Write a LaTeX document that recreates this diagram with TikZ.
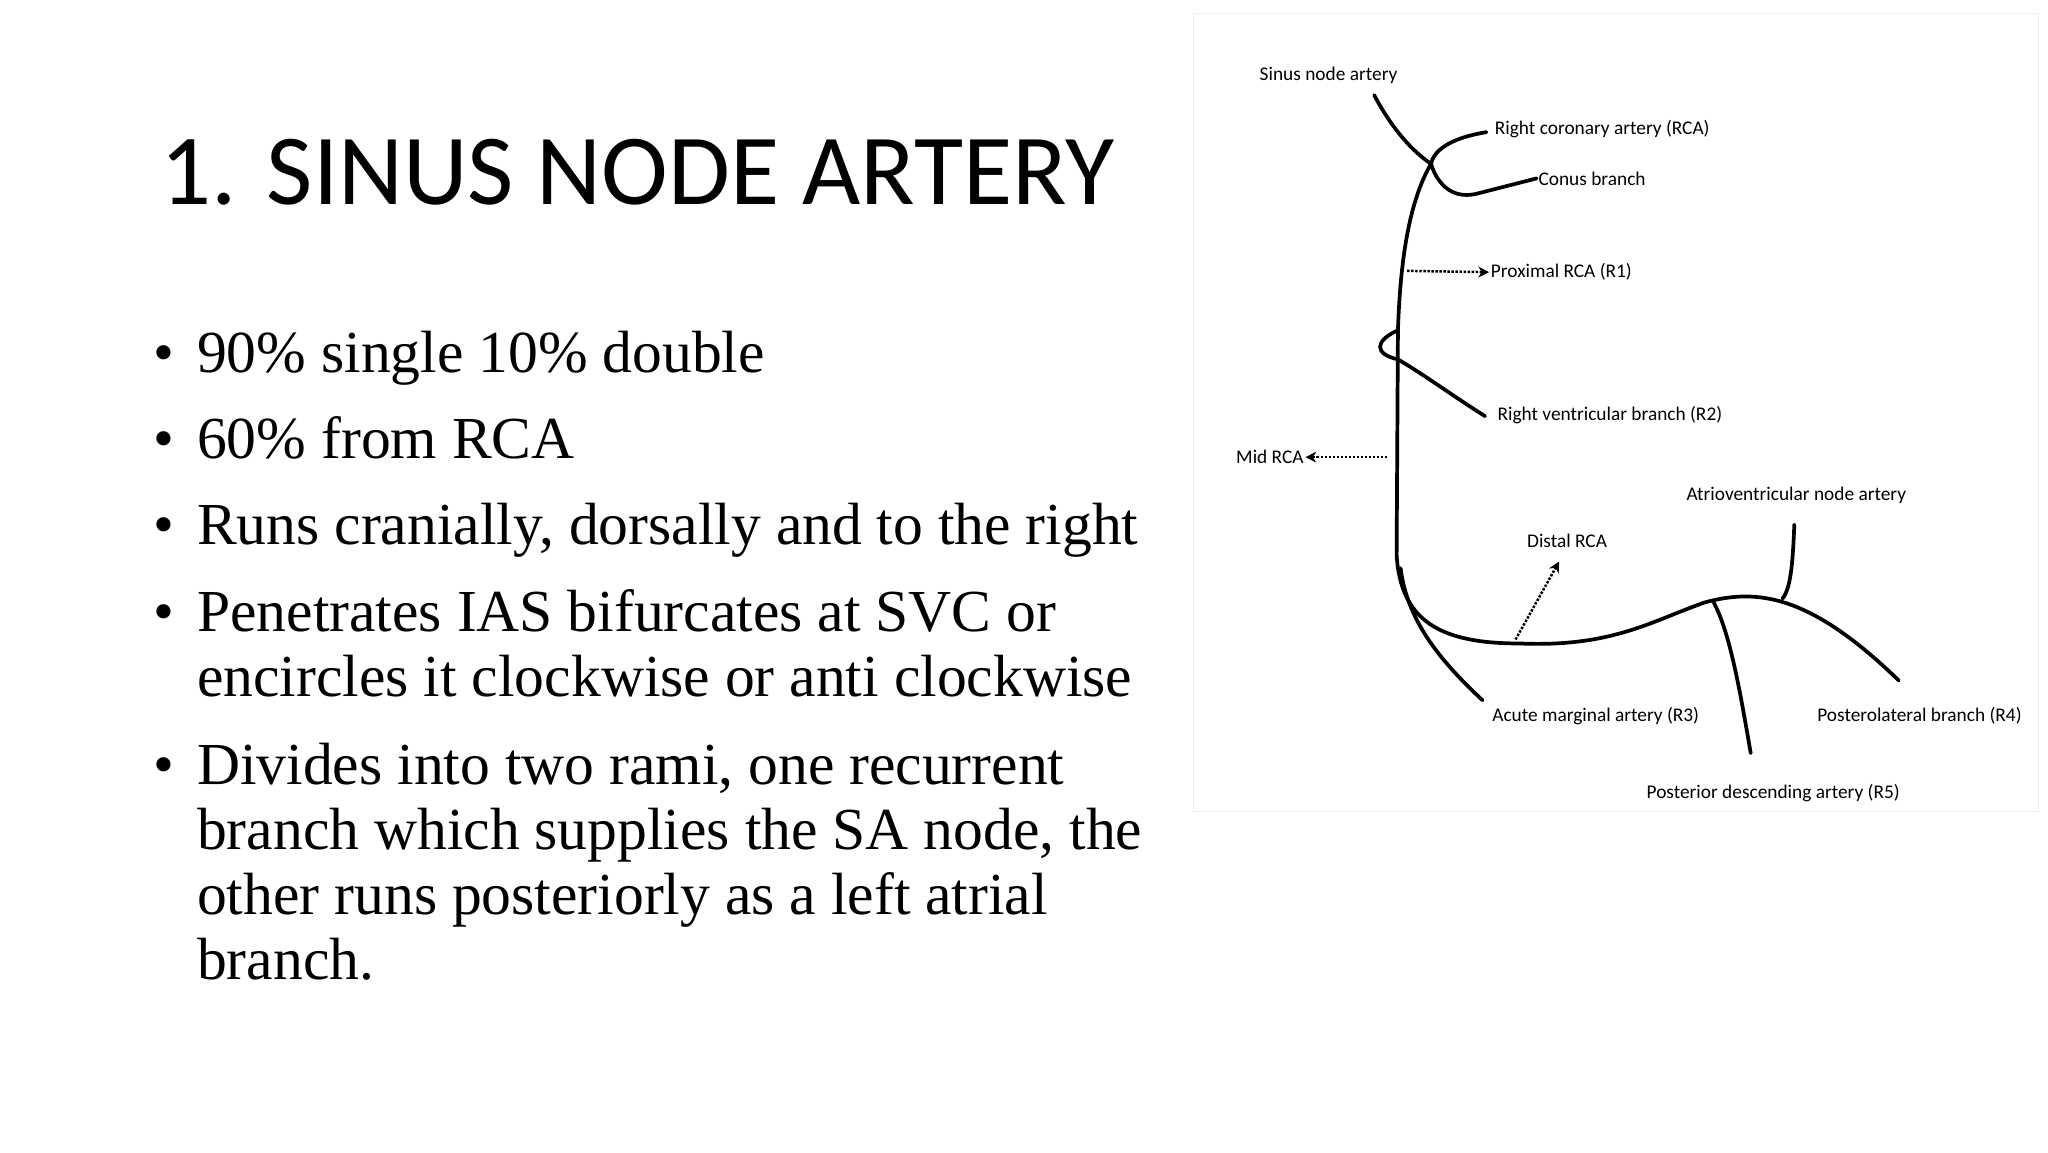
\documentclass[tikz,border=0pt]{standalone}
\usepackage{fontspec}
\setmainfont{Liberation Serif}
\newfontfamily\titlefont{Carlito}
\newfontfamily\labfont{Carlito}
\usetikzlibrary{arrows.meta}
\begin{document}
\begin{tikzpicture}[x=0.03cm,y=-0.03cm,
  art/.style={line width=2.4pt,line cap=round},
  dotarr/.style={densely dotted,line width=1.6pt,-{Stealth[length=7pt,width=7pt]}},
  lab/.style={font=\labfont\fontsize{12.5}{14}\selectfont,inner sep=1pt},
  bul/.style={anchor=base west,inner sep=0pt,font=\fontsize{38.5}{41.8}\selectfont},
  dot/.style={anchor=base west,inner sep=0pt,font=\fontsize{38.5}{41.8}\selectfont}]
\useasboundingbox (0,0) rectangle (1550,872);
\node[anchor=base west,inner sep=0pt,font=\titlefont\fontsize{65}{75}\selectfont] (title) at (121,155) {1. SINUS NODE ARTERY};
\node[bul] (b1) at (149,282) {90\% single 10\% double};
\node[bul] (b2) at (149,347) {60\% from RCA};
\node[bul] (b3) at (149,412) {Runs cranially, dorsally and to the right};
\node[bul] (b4a) at (149,478) {Penetrates IAS bifurcates at SVC or};
\node[bul] (b4b) at (149,527) {encircles it clockwise or anti clockwise};
\node[bul] (b5a) at (149,594) {Divides into two rami, one recurrent};
\node[bul] (b5b) at (149,643) {branch which supplies the SA node, the};
\node[bul] (b5c) at (149,692) {other runs posteriorly as a left atrial};
\node[bul] (b5d) at (149,741) {branch.};
\node[dot] (d1) at (116,282) {\textbullet};
\node[dot] (d2) at (116,347) {\textbullet};
\node[dot] (d3) at (116,412) {\textbullet};
\node[dot] (d4) at (116,478) {\textbullet};
\node[dot] (d5) at (116,594) {\textbullet};
% diagram panel
\draw[gray!12,fill=white] (903,10) rectangle (1543,614);
\coordinate (jn) at (1083,124);
\draw[art] (1125,100) .. controls (1095,105) and (1085,115) .. (jn);
\draw[art] (1040,72) .. controls (1055,100) and (1070,115) .. (jn);
\draw[art] (jn) .. controls (1088,140) and (1100,152) .. (1120,146) -- (1163,135);
\draw[art] (jn) .. controls (1068,150) and (1060,190) .. (1058,250) -- (1057,420)
  .. controls (1060,470) and (1090,487) .. (1150,487)
  .. controls (1220,490) and (1250,470) .. (1290,456)
  .. controls (1330,445) and (1370,450) .. (1437,515);
\coordinate (pd) at (1297,456);
\draw[art] (1058,250) .. controls (1040,258) and (1040,268) .. (1058,272) .. controls (1080,285) and (1100,300) .. (1124,315);
\draw[art] (1060,430) .. controls (1065,470) and (1090,500) .. (1122,530);
\draw[art] (pd) .. controls (1310,480) and (1318,530) .. (1325,570);
\draw[art] (1349,453) .. controls (1356,445) and (1357,420) .. (1358,397);
\node[lab,anchor=west] (sn) at (952,57) {Sinus node artery};
\node[lab,anchor=west] (rca) at (1130,98) {Right coronary artery (RCA)};
\node[lab,anchor=west] (cb) at (1163,135) {Conus branch};
\node[lab,anchor=west] (r1) at (1127,206) {Proximal RCA (R1)};
\node[lab,anchor=west] (r2) at (1132,314) {Right ventricular branch (R2)};
\node[lab,anchor=east] (mid) at (988,346) {Mid RCA};
\node[lab,anchor=west] (av) at (1275,375) {Atrioventricular node artery};
\node[lab] (dist) at (1186,409) {Distal RCA};
\node[lab,anchor=west] (r3) at (1128,542) {Acute marginal artery (R3)};
\node[lab,anchor=west] (r4) at (1374,542) {Posterolateral branch (R4)};
\node[lab] (r5) at (1342,600) {Posterior descending artery (R5)};
\coordinate (p1) at (1065,205);
\coordinate (m1) at (1050,346);
\coordinate (ds) at (1147,484);
\draw[dotarr] (p1) -- (r1.west);
\draw[dotarr] (m1) -- (mid.east);
\draw[dotarr] (ds) -- (1180,425);
\end{tikzpicture}
\end{document}
